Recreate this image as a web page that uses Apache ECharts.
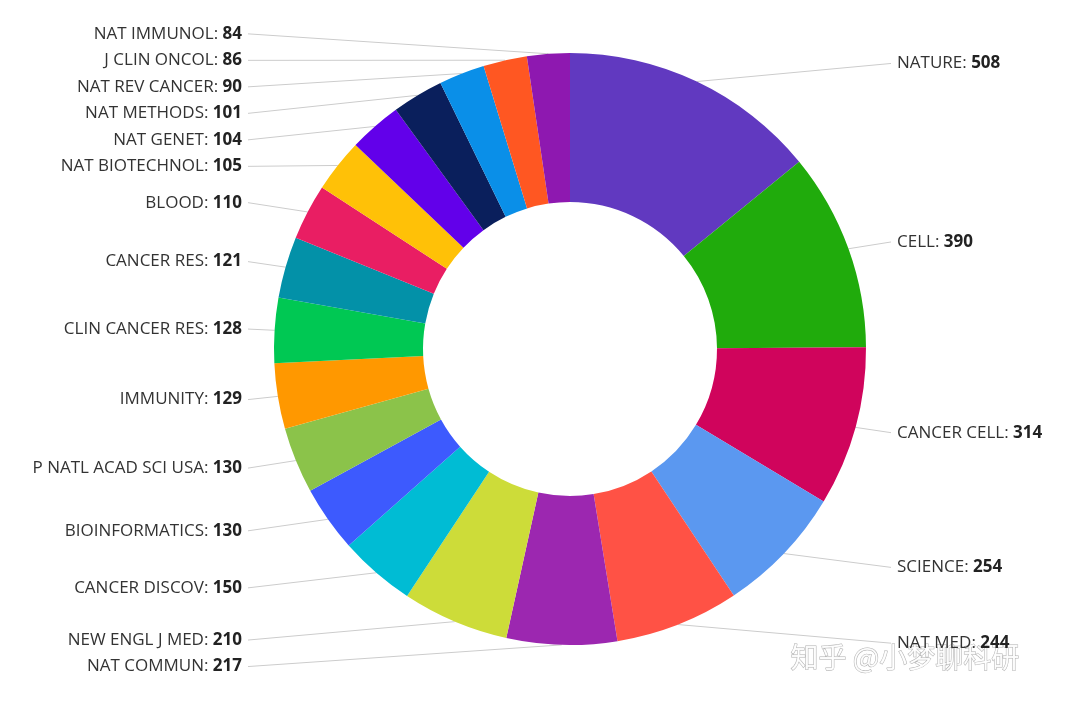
<!DOCTYPE html>
<html><head><meta charset="utf-8">
<script src="https://cdn.jsdelivr.net/npm/echarts@6/dist/echarts.min.js"></script>
<style>html,body{margin:0;padding:0;background:#fff}#c{width:1080px;height:706px}</style>
</head><body><div id="c"></div>
<script>
const names=["NATURE","CELL","CANCER CELL","SCIENCE","NAT MED","NAT COMMUN","NEW ENGL J MED","CANCER DISCOV","BIOINFORMATICS","P NATL ACAD SCI USA","IMMUNITY","CLIN CANCER RES","CANCER RES","BLOOD","NAT BIOTECHNOL","NAT GENET","NAT METHODS","NAT REV CANCER","J CLIN ONCOL","NAT IMMUNOL"];
const values=[508,390,314,254,244,217,210,150,130,130,129,128,121,110,105,104,101,90,86,84];
const colors=["#6139c0","#20ab0c","#d0045c","#5b98f0","#ff5245","#9c27b0","#cddc39","#00bcd4","#3d5afe","#8bc34a","#ff9800","#00c853","#0391a8","#e91e63","#ffc107","#6200ea","#0a1f5c","#0a8fe8","#ff5722","#8e18b0"];
const cx=570, cy=349;
const chart=echarts.init(document.getElementById('c'));
chart.setOption({
  animation:false,
  color:colors,
  graphic:[{type:'text',left:790,top:643,style:{text:'知乎 @小梦聊科研',fill:'rgba(255,255,255,0.9)',stroke:'rgba(120,120,120,0.6)',lineWidth:1,font:'28px "Noto Sans CJK SC"'}}],
  series:[{
    type:'pie',center:[cx,cy],radius:[147,296],startAngle:90,clockwise:true,
    data:names.map((n,i)=>({name:n,value:values[i]})),
    label:{fontFamily:'Open Sans',fontSize:17,color:'#333',lineHeight:24.5,
      formatter:p=>p.name+': {b|'+p.value+'}',
      rich:{b:{fontWeight:'bold',fontFamily:'Open Sans',fontSize:17,color:'#222',lineHeight:24.5}}},
    labelLine:{length:20,length2:20,lineStyle:{color:'#ccc',width:1}},
    labelLayout:function(p){
      const pts=p.labelLinePoints; if(!pts) return {};
      const right=pts[2][0]>cx;
      const y=p.labelRect.y+p.labelRect.height/2;
      const x=right?897:242;
      return {x:x,y:y,align:right?'left':'right',verticalAlign:'middle',
        labelLinePoints:[pts[0],[right?x-6:x+6,y],[right?x-6:x+6,y]]};
    }
  }]
});
</script></body></html>
